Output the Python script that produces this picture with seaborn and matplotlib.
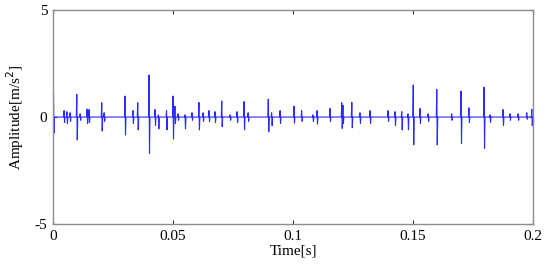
import numpy as np
import pandas as pd
import matplotlib
matplotlib.use("Agg")
import matplotlib.pyplot as plt
import seaborn as sns

# Impulse events: time [s], positive peak, negative peak [m/s^2]
event_t = [0.0002, 0.0046, 0.0058, 0.0071, 0.0099, 0.0113, 0.0142, 0.0150, 0.0203, 0.0213,
           0.0300, 0.0333, 0.0353, 0.0400, 0.0425, 0.0439, 0.0473, 0.0500, 0.0508, 0.0521,
           0.0550, 0.0579, 0.0608, 0.0625, 0.0650, 0.0675, 0.0703, 0.0738, 0.0767, 0.0796,
           0.0813, 0.0897, 0.0911, 0.0946, 0.1004, 0.1036, 0.1083, 0.1100, 0.1154, 0.1203,
           0.1208, 0.1245, 0.1279, 0.1321, 0.1396, 0.1425, 0.1453, 0.1479, 0.1501, 0.1529,
           0.1563, 0.1599, 0.1661, 0.1700, 0.1733, 0.1796, 0.1821, 0.1875, 0.1904, 0.1938,
           0.1974, 0.1995]
event_up = [1.10, 0.30, 0.25, 0.20, 1.06, 0.15, 0.37, 0.35, 0.67, 0.20,
            0.98, 0.30, 0.67, 1.96, 0.35, 0.10, 0.30, 0.98, 0.50, 0.15,
            0.10, 0.20, 0.68, 0.20, 0.30, 0.25, 0.75, 0.10, 0.25, 0.72,
            0.20, 0.84, 0.20, 0.30, 0.51, 0.30, 0.10, 0.30, 0.40, 0.67,
            0.55, 0.68, 0.20, 0.30, 0.30, 0.25, 0.25, 0.15, 1.50, 0.40,
            0.15, 1.29, 0.15, 1.21, 0.43, 1.39, 0.10, 0.35, 0.15, 0.15,
            0.20, 0.36]
event_down = [-0.75, -0.25, -0.30, -0.20, -1.07, -0.15, -0.30, -0.25, -0.65, -0.20,
              -0.84, -0.30, -0.60, -1.70, -0.40, -0.55, -0.60, -1.03, -0.30, -0.15,
              -0.55, -0.15, -0.60, -0.20, -0.20, -0.25, -0.45, -0.15, -0.25, -0.60,
              -0.20, -0.68, -0.40, -0.30, -0.28, -0.20, -0.20, -0.33, -0.20, -0.53,
              -0.30, -0.50, -0.30, -0.30, -0.20, -0.40, -0.60, -0.60, -1.30, -0.30,
              -0.20, -1.30, -0.15, -1.23, -0.25, -1.46, -0.25, -0.40, -0.15, -0.15,
              -0.10, -0.40]

x_ticks = [0, 0.05, 0.1, 0.15, 0.2]
x_tick_labels = ["0", "0.05", "0.1", "0.15", "0.2"]
y_ticks = [-5, 0, 5]
y_tick_labels = ["-5", "0", "5"]

# Build the polyline: baseline at zero, each event drawn as zero -> up -> down -> zero
dt = 0.0002
ts, vs = [0.0], [0.0]
for t, u, d in zip(event_t, event_up, event_down):
    ts += [max(t - dt, 0.0), t, t + dt, t + 2 * dt]
    vs += [0.0, u, d, 0.0]
ts.append(0.2)
vs.append(0.0)
df = pd.DataFrame({"t": ts, "a": vs, "o": np.arange(len(ts))})

sns.set_theme(style="white")
plt.rcParams["font.family"] = ["Liberation Serif", "DejaVu Serif"]

fig = plt.figure(figsize=(5.5, 2.7), dpi=100)
ax = fig.add_axes([0.0964, 0.170, 0.8727, 0.793])
sns.lineplot(data=df, x="t", y="a", sort=False, estimator=None, ax=ax,
             color="#2a2aff", linewidth=0.8)

ax.set_xlim(0, 0.2)
ax.set_ylim(-5, 5)
ax.set_xticks(x_ticks)
ax.set_xticklabels(x_tick_labels)
ax.set_yticks(y_ticks)
ax.set_yticklabels(y_tick_labels)
ax.tick_params(direction="in", length=3, width=0.8, color="#333333",
               top=True, right=True, bottom=True, left=True,
               labelsize=11, pad=4, labelcolor="black")
for s in ax.spines.values():
    s.set_color("#8c8c8c")
    s.set_linewidth(1.0)
ax.set_xlabel("Time[s]", fontsize=11, labelpad=1, color="black")
ax.set_ylabel("Amplitude[m/s$^2$]", fontsize=11, labelpad=6, color="black")

fig.savefig("out.png", dpi=100)
